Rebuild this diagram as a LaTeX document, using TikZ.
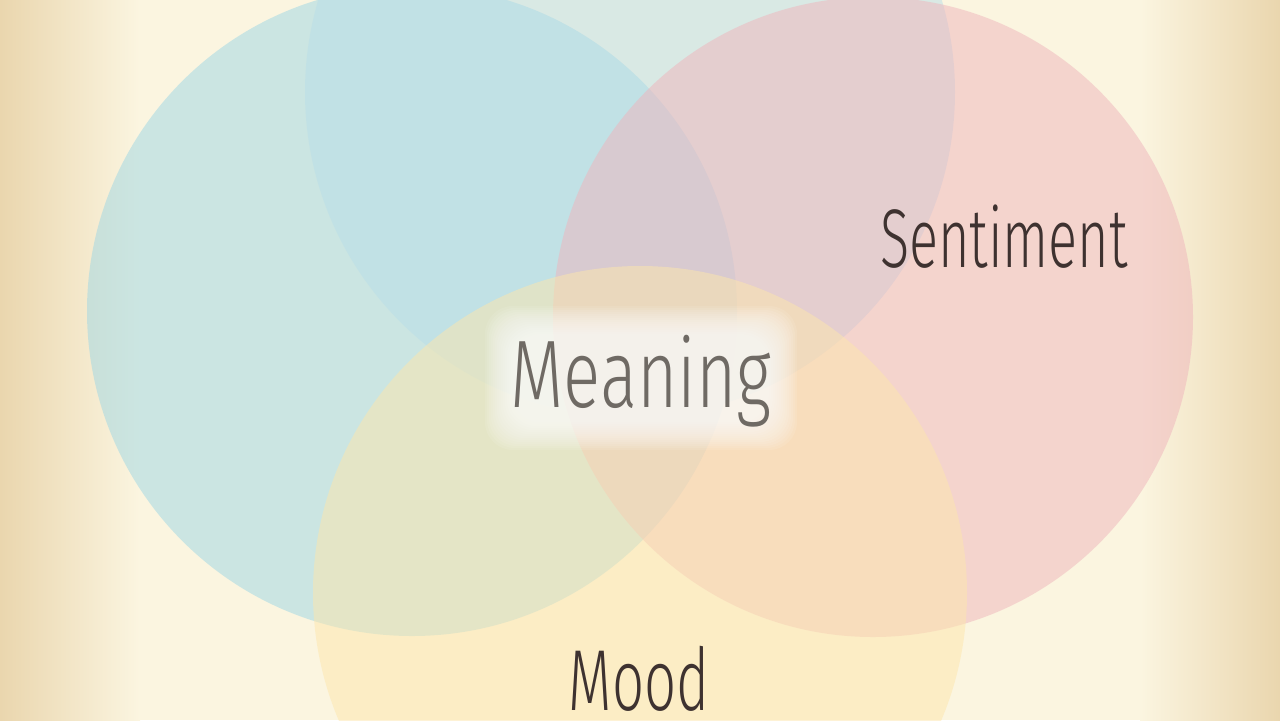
\documentclass[tikz,border=0pt]{standalone}
\usepackage{fontspec}
\usepackage{tikz}
\newfontfamily\wordfont{Fira Sans Light}[FakeStretch=0.72]
\newfontfamily\narrowfont{Fira Sans Light}[FakeStretch=0.65]
\definecolor{papercolor}{RGB}{251,245,224}
\definecolor{edgecolor}{RGB}{234,214,174}
\definecolor{bluecolor}{RGB}{157,215,228}
\definecolor{tealcolor}{RGB}{185,222,232}
\definecolor{pinkcolor}{RGB}{239,180,188}
\definecolor{yellowcolor}{RGB}{253,230,172}
\definecolor{meaningcolor}{RGB}{111,106,100}
\definecolor{inkcolor}{RGB}{62,50,48}

\begin{document}
\begin{tikzpicture}[
    x=0.5pt, y=-0.5pt,
    set/.style={circle, inner sep=0pt, fill opacity=0.5},
    glowbox/.style={rectangle, rounded corners=14pt, fill=white, fill opacity=0.09, inner sep=0pt},
    word/.style={inner sep=0pt, anchor=base}
]
\useasboundingbox (0,0) rectangle (1280,720);

% Paper background
\fill[papercolor] (0,0) rectangle (1280,720);
\shade[left color=edgecolor, right color=papercolor] (0,0) rectangle (140,720);
\shade[left color=papercolor, right color=edgecolor] (1140,0) rectangle (1280,720);

% Sets
\node[set, fill=bluecolor, minimum size=325pt] (blueset) at (412,311) {};
\node[set, fill=tealcolor, minimum size=325pt] (tealset) at (630,92) {};
\node[set, fill=pinkcolor, minimum size=320pt] (pinkset) at (873,317) {};
\node[set, fill=yellowcolor, minimum size=327pt] (yellowset) at (640,593) {};

% Glow behind the centre word
\foreach \pad in {0,2,...,28}
  \node[glowbox, minimum width={128+\pad}, minimum height={44+\pad}] at (641,378) {};

% Labels
\node[word, font=\wordfont\fontsize{48}{48}\selectfont, text=meaningcolor] (meaning) at (641,407) {Meaning};
\node[word, font=\narrowfont\fontsize{41.6}{42}\selectfont, text=inkcolor] (sentiment) at (1004,267) {Sentiment};
\node[word, font=\narrowfont\fontsize{43.3}{44}\selectfont, text=inkcolor] (mood) at (639,710) {Mood};

\end{tikzpicture}
\end{document}
